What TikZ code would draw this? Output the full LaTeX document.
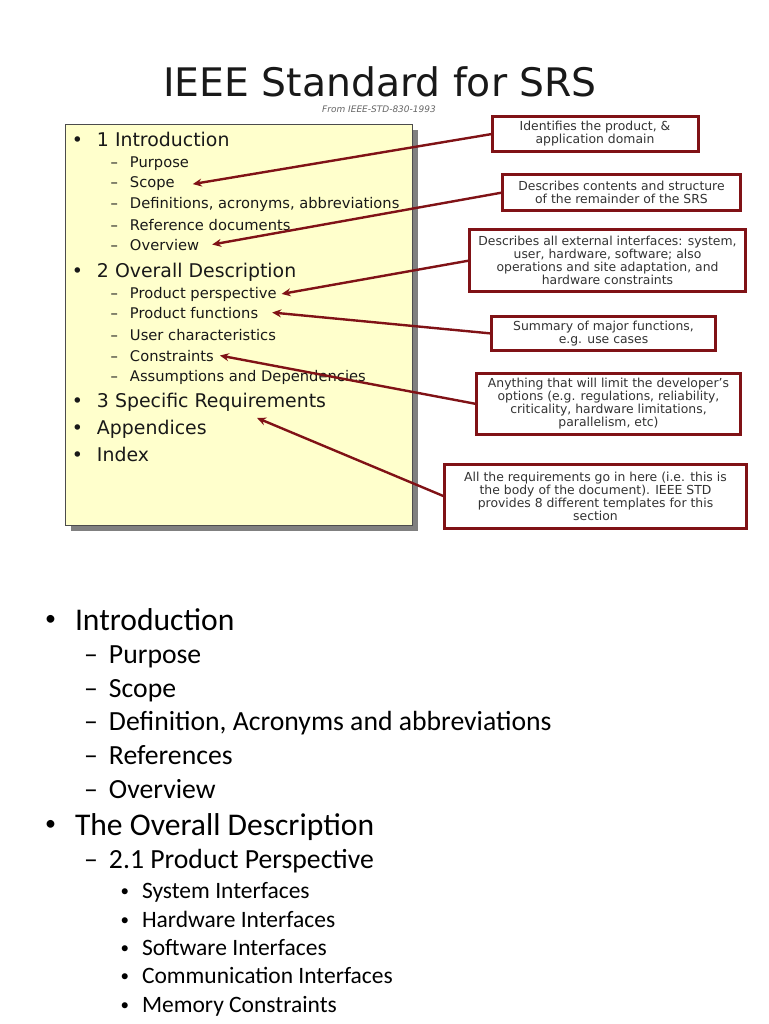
\documentclass[tikz,border=0pt]{standalone}
\usepackage{fontspec}
\setmainfont{DejaVu Sans}
\newfontfamily\calib{Carlito}
\usetikzlibrary{arrows.meta}
\definecolor{callred}{RGB}{128,18,22}
\definecolor{noteyel}{RGB}{255,255,204}
\definecolor{txt}{RGB}{25,25,25}
\newcommand{\myBA}{\llap{•\hspace{14pt}}}
\newcommand{\myDB}{\llap{–\hspace{12pt}}}
\newcommand{\myBbA}{\llap{\raisebox{4.5pt}{\fontsize{22}{22}\selectfont •}\hspace{19pt}}}
\newcommand{\myBbB}{\llap{–\hspace{11pt}}}
\newcommand{\myBbC}{\llap{\raisebox{2pt}{\fontsize{17}{17}\selectfont •}\hspace{13pt}}}
\begin{document}
\begin{tikzpicture}[x=1pt,y=-1pt,
  every node/.style={inner sep=0pt, outer sep=0pt, text=txt},
  lvlA/.style={anchor=base west, font=\fontsize{18.9}{22}\selectfont},
  lvlB/.style={anchor=base west, font=\fontsize{14.7}{17}\selectfont},
  callout/.style={draw=callred, line width=3pt, fill=white, align=center,
    font=\fontsize{12.4}{13}\selectfont, text=black!80},
  arr/.style={draw=callred, line width=2.4pt, -{Stealth[length=9pt,width=8pt]}},
  bA/.style={anchor=base west, font=\calib\fontsize{31.6}{36}\selectfont, text=black},
  bB/.style={anchor=base west, font=\calib\fontsize{27.7}{32}\selectfont, text=black},
  bC/.style={anchor=base west, font=\calib\fontsize{23.5}{27}\selectfont, text=black},
]
\fill[white] (0,0) rectangle (768,1024);
\useasboundingbox (0,0) rectangle (768,1024);

% title
\node[anchor=base, font=\fontsize{39.3}{44}\selectfont] (title) at (380,97) {IEEE Standard for SRS};
\node[anchor=base, font=\itshape\fontsize{9}{10}\selectfont, text=black!60] (from) at (379,113) {From IEEE-STD-830-1993};

% yellow panel with shadow
\fill[black!50] (71,130) rectangle (418,531);
\draw[fill=noteyel, draw=black!70, line width=0.8pt] (65,124) rectangle (412,525);

% panel items
\node[lvlA] (intro) at (97,147) {\myBA 1 Introduction};
\node[lvlB] (purpose) at (130,168) {\myDB Purpose};
\node[lvlB] (scope) at (130,188) {\myDB Scope};
\node[lvlB] (defs) at (130,209) {\myDB Definitions, acronyms, abbreviations};
\node[lvlB] (refs) at (130,230) {\myDB Reference documents};
\node[lvlB] (overview) at (130,250) {\myDB Overview};
\node[lvlA] (overall) at (97,277) {\myBA 2 Overall Description};
\node[lvlB] (persp) at (130,298) {\myDB Product perspective};
\node[lvlB] (func) at (130,318) {\myDB Product functions};
\node[lvlB] (users) at (130,340) {\myDB User characteristics};
\node[lvlB] (constr) at (130,361) {\myDB Constraints};
\node[lvlB] (assum) at (130,381) {\myDB Assumptions and Dependencies};
\node[lvlA] (spec) at (97,407) {\myBA 3 Specific Requirements};
\node[lvlA] (app) at (97,434) {\myBA Appendices};
\node[lvlA] (index) at (97,461) {\myBA Index};

% callouts
\node[callout, minimum width=206, minimum height=35] (c1) at (595,134)
  {Identifies the product, \&\\application domain};
\node[callout, minimum width=238, minimum height=36] (c2) at (621.5,192.5)
  {Describes contents and structure\\of the remainder of the SRS};
\node[callout, minimum width=276, minimum height=62] (c3) at (607.5,260.5)
  {Describes all external interfaces: system,\\user, hardware, software; also\\operations and site adaptation, and\\hardware constraints};
\node[callout, minimum width=224, minimum height=34] (c4) at (603.5,333.5)
  {Summary of major functions,\\e.g. use cases};
\node[callout, minimum width=264, minimum height=61] (c5) at (608.5,404)
  {Anything that will limit the developer's\\options (e.g. regulations, reliability,\\criticality, hardware limitations,\\parallelism, etc)};
\node[callout, minimum width=302, minimum height=64] (c6) at (595.5,496.5)
  {All the requirements go in here (i.e. this is\\the body of the document). IEEE STD\\provides 8 different templates for this\\section};

% arrows
\draw[arr] (c1.west) -- ([xshift=18pt]scope.east);
\draw[arr] (c2.west) -- ([xshift=13pt]overview.east);
\draw[arr] (c3.west) -- ([xshift=5pt]persp.east);
\draw[arr] (c4.west) -- ([xshift=14pt]func.east);
\draw[arr] (c5.west) -- ([xshift=6pt]constr.east);
\draw[arr] (c6.west) -- ([xshift=160pt,yshift=-7pt]spec.south west);

% lower outline
\node[bA] (l1) at (75,630) {\myBbA Introduction};
\node[bB] (l2) at (109,663) {\myBbB Purpose};
\node[bB] (l3) at (109,697) {\myBbB Scope};
\node[bB] (l4) at (109,730) {\myBbB Definition, Acronyms and abbreviations};
\node[bB] (l5) at (109,764) {\myBbB References};
\node[bB] (l6) at (109,798) {\myBbB Overview};
\node[bA] (l7) at (75,835) {\myBbA The Overall Description};
\node[bB] (l8) at (109,868) {\myBbB 2.1 Product Perspective};
\node[bC] (l9) at (142,898) {\myBbC System Interfaces};
\node[bC] (l10) at (142,927) {\myBbC Hardware Interfaces};
\node[bC] (l11) at (142,955) {\myBbC Software Interfaces};
\node[bC] (l12) at (142,983) {\myBbC Communication Interfaces};
\node[bC] (l13) at (142,1012) {\myBbC Memory Constraints};
\end{tikzpicture}
\end{document}
